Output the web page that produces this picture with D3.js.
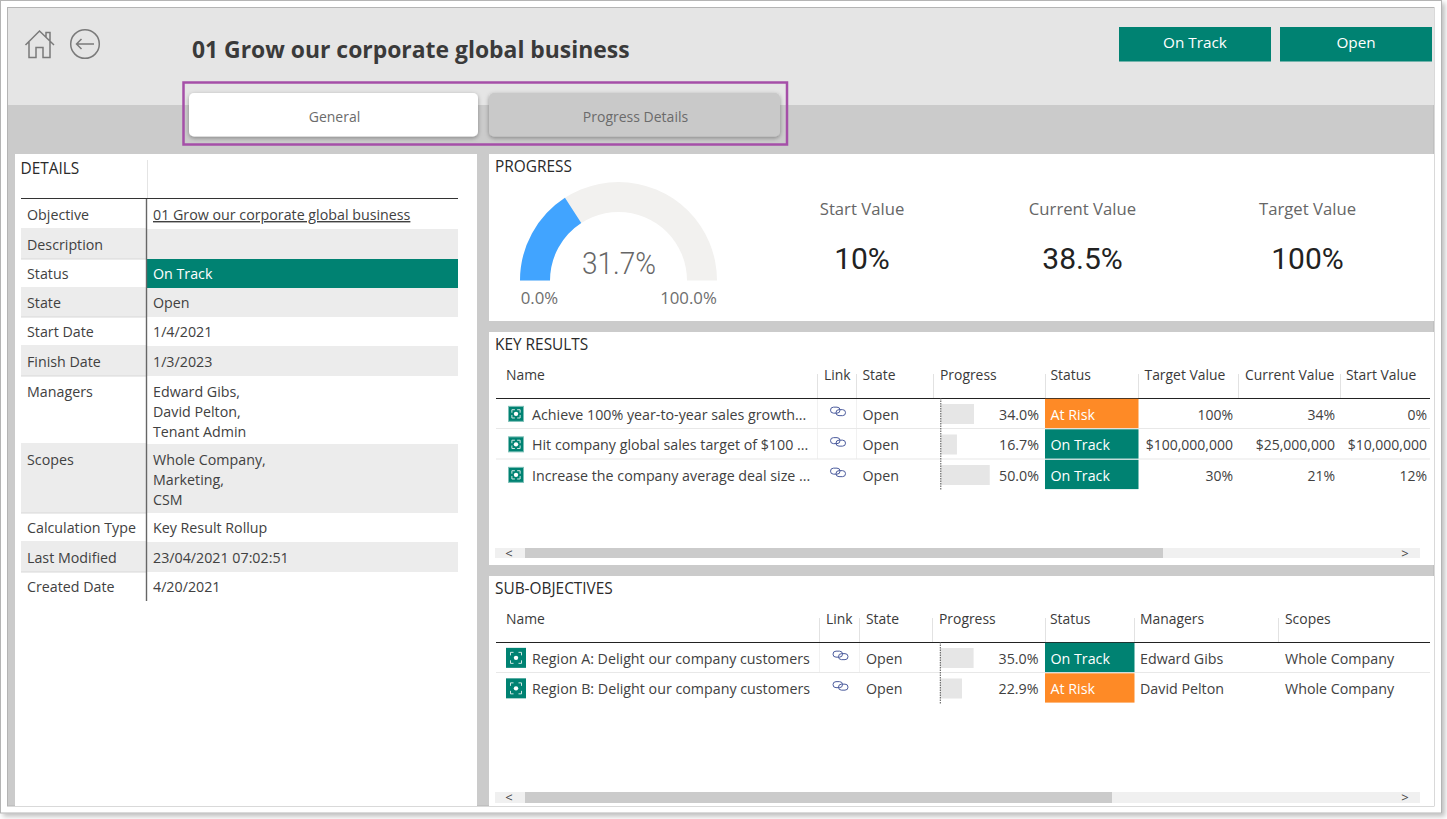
<!DOCTYPE html>
<html><head><meta charset="utf-8">
<script src="https://cdn.jsdelivr.net/npm/d3@7"></script>
<style>html,body{margin:0;padding:0;background:#fff;overflow:hidden}svg{display:block}text{font-family:"Open Sans",sans-serif}</style>
</head><body><svg id="c" width="1447" height="819"></svg>
<script>
// ---- data ----
const pageTitle = "01 Grow our corporate global business";
const headerBadges = ["On Track", "Open"];
const tabs = ["General", "Progress Details"];
const detailLabels = ["Objective","Description","Status","State","Start Date","Finish Date","Managers","Scopes","Calculation Type","Last Modified","Created Date"];
const detailValues = [["01 Grow our corporate global business"],[""],["On Track"],["Open"],["1/4/2021"],["1/3/2023"],["Edward Gibs,","David Pelton,","Tenant Admin"],["Whole Company,","Marketing,","CSM"],["Key Result Rollup"],["23/04/2021 07:02:51"],["4/20/2021"]];
const gaugeValue = 31.7, gaugeMin = 0, gaugeMax = 100;
const kpiLabels = ["Start Value","Current Value","Target Value"];
const kpiValues = ["10%","38.5%","100%"];
const krHeaders = ["Name","Link","State","Progress","Status","Target Value","Current Value","Start Value"];
const krNames = ["Achieve 100% year-to-year sales growth...","Hit company global sales target of $100 ...","Increase the company average deal size ..."];
const krStates = ["Open","Open","Open"];
const krProgress = [34.0,16.7,50.0];
const krStatus = ["At Risk","On Track","On Track"];
const krTarget = ["100%","$100,000,000","30%"];
const krCurrent = ["34%","$25,000,000","21%"];
const krStart = ["0%","$10,000,000","12%"];
const soHeaders = ["Name","Link","State","Progress","Status","Managers","Scopes"];
const soNames = ["Region A: Delight our company customers","Region B: Delight our company customers"];
const soStates = ["Open","Open"];
const soProgress = [35.0,22.9];
const soStatus = ["On Track","At Risk"];
const soManagers = ["Edward Gibs","David Pelton"];
const soScopes = ["Whole Company","Whole Company"];

// ---- style ----
const TEAL="#008272", ORANGE="#fe8a26", TXT="#414141", GREY="#cbcbcb";
const FS=14.25, FN=14, FH=13.9, FT=15.4;
const statusColor = d3.scaleOrdinal().domain(["On Track","At Risk"]).range([TEAL,ORANGE]);
const svg = d3.select("#c");
const defs = svg.append("defs");
const shadow = defs.append("filter").attr("id","sh").attr("x","-5%").attr("y","-20%").attr("width","110%").attr("height","150%");
shadow.append("feDropShadow").attr("dx",0).attr("dy",1.5).attr("stdDeviation",2).attr("flood-color","#000").attr("flood-opacity",.35);
const frameSh = defs.append("filter").attr("id","fs").attr("x","-2%").attr("y","-2%").attr("width","104%").attr("height","104%");
frameSh.append("feDropShadow").attr("dx",3).attr("dy",3).attr("stdDeviation",2.5).attr("flood-color","#000").attr("flood-opacity",.25);

function rect(g,x0,y0,x1,y1,fill,extra){const r=g.append("rect").attr("x",x0).attr("y",y0).attr("width",x1-x0).attr("height",y1-y0).attr("fill",fill);if(extra)Object.entries(extra).forEach(([k,v])=>r.attr(k,v));return r;}
function line(g,x0,y0,x1,y1,c,w){return g.append("line").attr("x1",x0).attr("y1",y0).attr("x2",x1).attr("y2",y1).attr("stroke",c).attr("stroke-width",w||1);}
function text(g,x,y,s,o={}){return g.append("text").attr("x",x).attr("y",y).attr("dy",".35em").attr("text-anchor",o.a||"start").attr("font-size",o.s||14).attr("font-weight",o.w||400).attr("fill",o.c||TXT).style("font-family",o.f||null).text(s);}

// frame
rect(svg,.5,.5,1441.5,813,"#fff",{stroke:"#b4b4b4",filter:"url(#fs)"});
rect(svg,7.5,7.5,1434,806,GREY,{stroke:"#b4b4b4"});
rect(svg,8,8,1434,105,"#e5e5e5");

// header
const hdr = svg.append("g");
const home = hdr.append("g").attr("fill","none").attr("stroke","#7a7a7a").attr("stroke-width",1.5);
home.append("path").attr("d","M25.5 45 L39.5 31 L54 45 M29 41 V57.5 H36 V47.5 H43 V57.5 H50 V41 M46 37 V32.5 H50 V41");
const back = hdr.append("g").attr("fill","none").attr("stroke","#7a7a7a").attr("stroke-width",1.5);
back.append("circle").attr("cx",85).attr("cy",44).attr("r",14.3);
back.append("path").attr("d","M76.5 44 H94 M81.5 39 L76.5 44 L81.5 49");
text(hdr,192,50,pageTitle,{s:22.9,w:700,c:"#3a3a3a"});
const badgeX = d3.scaleBand().domain(headerBadges).range([1119,1432]).paddingInner(.056);
hdr.selectAll("g.badge").data(headerBadges).join("g").attr("class","badge").each(function(d){
  const g=d3.select(this);
  rect(g,badgeX(d),27,badgeX(d)+badgeX.bandwidth(),61.5,TEAL);
  text(g,badgeX(d)+badgeX.bandwidth()/2,42.6,d,{a:"middle",s:15.3,c:"#fff"});
});
// tabs
rect(svg,183.5,82.5,787,144.5,"none",{stroke:"#a54fa8","stroke-width":2.5});
const tabX = d3.scalePoint().domain(tabs).range([189,489]);
const tabW = [289,291], tabFill=["#fff","#c9c9c9"];
tabs.forEach((t,i)=>{
  rect(svg,tabX(t),93,tabX(t)+tabW[i],136.5,tabFill[i],{rx:5,filter:"url(#sh)"});
  text(svg,tabX(t)+tabW[i]/2+1,116.7,t,{a:"middle",s:14,c:"#6b6b6b"});
});

// panels
rect(svg,15,154,477,806,"#fff");
rect(svg,489,154,1434,321,"#fff");
rect(svg,489,332,1434,565,"#fff");
rect(svg,489,576,1434,806,"#fff");

// details table
const dg = svg.append("g");
text(dg,20.5,168.8,"DETAILS",{s:FT,c:"#2a2a2a"});
line(dg,147.5,160,147.5,198,"#e4e4e4");
line(dg,21,198.5,458,198.5,"#333");
const rowEdges=[199,229,259,288,317,346,376,444,513,542,572,601];
detailLabels.forEach((l,i)=>{
  const y0=rowEdges[i], y1=rowEdges[i+1];
  if(i%2===1) rect(dg,21,y0,458,y1,"#ececec");
  if(l==="Status") rect(dg,147,y0,458,y1,statusColor(detailValues[i][0]));
  line(dg,21,y1,147,y1,i===10?"none":"#d8d8d8");
  const lines=detailValues[i], multi=lines.length>1;
  text(dg,27,multi?y0+16:(y0+y1)/2+1,l,{s:FS});
  lines.forEach((v,j)=>{
    const t=text(dg,153,multi?y0+16+j*20:(y0+y1)/2+1,v,{s:FS,c:l==="Status"?"#fff":TXT});
    if(l==="Objective")t.attr("text-decoration","underline");
  });
});
line(dg,146.5,199,146.5,601,"#666",1.4);

// gauge
const pg = svg.append("g");
text(pg,495,166.8,"PROGRESS",{s:FT,c:"#2a2a2a"});
const gc = pg.append("g").attr("transform","translate(618.5,280.5)");
const angle = d3.scaleLinear().domain([gaugeMin,gaugeMax]).range([-Math.PI/2,Math.PI/2]);
const arc = d3.arc().innerRadius(68.5).outerRadius(98.5);
gc.append("path").attr("d",arc({startAngle:angle(gaugeMin),endAngle:angle(gaugeMax)})).attr("fill","#f2f1ef");
gc.append("path").attr("d",arc({startAngle:angle(gaugeMin),endAngle:angle(gaugeValue)})).attr("fill","#41a4ff");
text(pg,619,263,gaugeValue.toFixed(1)+"%",{a:"middle",s:31,c:"#666",f:"Roboto",w:300}).attr("textLength",74).attr("lengthAdjust","spacingAndGlyphs");
text(pg,539.5,298,gaugeMin.toFixed(1)+"%",{a:"middle",s:16.8,c:"#6e6e6e"});
text(pg,688.5,298,gaugeMax.toFixed(1)+"%",{a:"middle",s:16.8,c:"#6e6e6e"});
// KPI
const kpiX=d3.scaleOrdinal().domain(kpiLabels).range([862,1082.5,1307.5]);
kpiLabels.forEach((l,i)=>{
  text(pg,kpiX(l),209,l,{a:"middle",s:16.7,c:"#666"});
  text(pg,kpiX(l),258,kpiValues[i],{a:"middle",s:30,c:"#222",f:"Roboto",w:400});
});

function linkIcon(g,cx,cy){
  const i=g.append("g").attr("fill","none").attr("stroke","#4a5a9c").attr("stroke-width",1);
  i.append("rect").attr("x",cx-7.5).attr("y",cy-5.5).attr("width",9.5).attr("height",6).attr("rx",3);
  i.append("rect").attr("x",cx-2).attr("y",cy-3).attr("width",9.5).attr("height",6).attr("rx",3);
}
function objIcon(g,cx,cy,size,tint){
  const h=size/2;
  rect(g,cx-h,cy-h,cx+h,cy+h,TEAL,tint?{stroke:"#7fc0b8","stroke-width":1}:null);
  const k=h*.55;
  g.append("path").attr("fill","none").attr("stroke","#cfe8e4").attr("stroke-width",1)
   .attr("d",`M${cx-k} ${cy-k+3}V${cy-k}H${cx-k+3}M${cx+k-3} ${cy-k}H${cx+k}V${cy-k+3}M${cx+k} ${cy+k-3}V${cy+k}H${cx+k-3}M${cx-k+3} ${cy+k}H${cx-k}V${cy+k-3}`);
  g.append("circle").attr("cx",cx).attr("cy",cy).attr("r",2.2).attr("fill","#fff");
}
function scrollbar(g,y0,y1,thumbEnd){
  rect(g,495,y0,1420,y1,"#f0f0f0");
  rect(g,525,y0,thumbEnd,y1,GREY);
  text(g,509,(y0+y1)/2,"<",{a:"middle",s:13,c:"#444"});
  text(g,1405,(y0+y1)/2,">",{a:"middle",s:13,c:"#444"});
}
function table(g,o){
  const n=o.names.length;
  const rowBand=d3.scaleBand().domain(d3.range(n)).range([o.top,o.top+n*o.rh]);
  const barW=d3.scaleLinear().domain([0,100]).range([0,o.barMax]);
  o.seps.forEach(x=>line(g,x+.5,o.top-24,x+.5,o.top,"#e2e2e2"));
  o.seps.slice(0,2).forEach(x=>line(g,x+.5,o.top,x+.5,o.top+(n-1)*o.rh,"#f1f1f1"));
  o.headers.forEach((h,i)=>text(g,o.headX[i],o.top-23.2,h,{s:FH,c:"#3a3a3a"}));
  line(g,496,o.top+.5,1430,o.top+.5,"#222");
  d3.range(n-1).forEach(i=>line(g,496,rowBand(i+1),1430,rowBand(i+1),"#e8e8e8",1.2));
  d3.range(n).forEach(i=>{
    const y=rowBand(i), c=y+rowBand.bandwidth()/2+1.4;
    objIcon(g,o.iconX,c-.8,o.iconS,o.iconTint);
    text(g,532,c,o.names[i],{s:FS});
    linkIcon(g,o.linkX,c-2);
    text(g,o.stateX,c,o.states[i],{s:FS});
    rect(g,o.barX,y+6,o.barX+barW(o.progress[i]),y+26,"#e6e6e6");
    text(g,o.pctX,c,o.progress[i].toFixed(1)+"%",{a:"end",s:FS});
    rect(g,1045,y+.8,o.statusEnd,y+rowBand.bandwidth()-.4,statusColor(o.status[i]));
    text(g,1050.5,c,o.status[i],{s:FS,c:"#fff"});
    o.cells(i,c);
  });
  line(g,o.barX+.3,o.top,o.barX+.3,o.top+n*o.rh+.5,"#555").attr("stroke-dasharray","1.5 1");
}
// key results
const kg=svg.append("g");
text(kg,495,344.8,"KEY RESULTS",{s:FT,c:"#2a2a2a"});
table(kg,{names:krNames,states:krStates,progress:krProgress,status:krStatus,headers:krHeaders,top:398,rh:30.5,
  seps:[817,856,933,1045,1138,1238,1340],headX:[506,824,862.5,940,1050.5,1144.5,1245,1346],
  iconX:516,iconS:15,iconTint:true,linkX:838,stateX:862.5,barX:940.5,barMax:98.5,pctX:1039,statusEnd:1138.5,
  cells:(i,c)=>{
    text(kg,1233,c,krTarget[i],{a:"end",s:FN});
    text(kg,1335,c,krCurrent[i],{a:"end",s:FN});
    text(kg,1427,c,krStart[i],{a:"end",s:FN});
  }});
scrollbar(kg,548,558,1163);
// sub-objectives
const sg=svg.append("g");
text(sg,495,588.8,"SUB-OBJECTIVES",{s:FT,c:"#2a2a2a"});
table(sg,{names:soNames,states:soStates,progress:soProgress,status:soStatus,headers:soHeaders,top:642,rh:30.5,
  seps:[819,859,932,1045,1134,1278],headX:[506,826,866,939,1050,1140,1285],
  iconX:516,iconS:20,iconTint:false,linkX:840.5,stateX:866,barX:940,barMax:96,pctX:1038.5,statusEnd:1134.5,
  cells:(i,c)=>{
    text(sg,1140,c,soManagers[i],{s:FS});
    text(sg,1285,c,soScopes[i],{s:FS});
  }});
scrollbar(sg,792,803,1112);
</script></body></html>
